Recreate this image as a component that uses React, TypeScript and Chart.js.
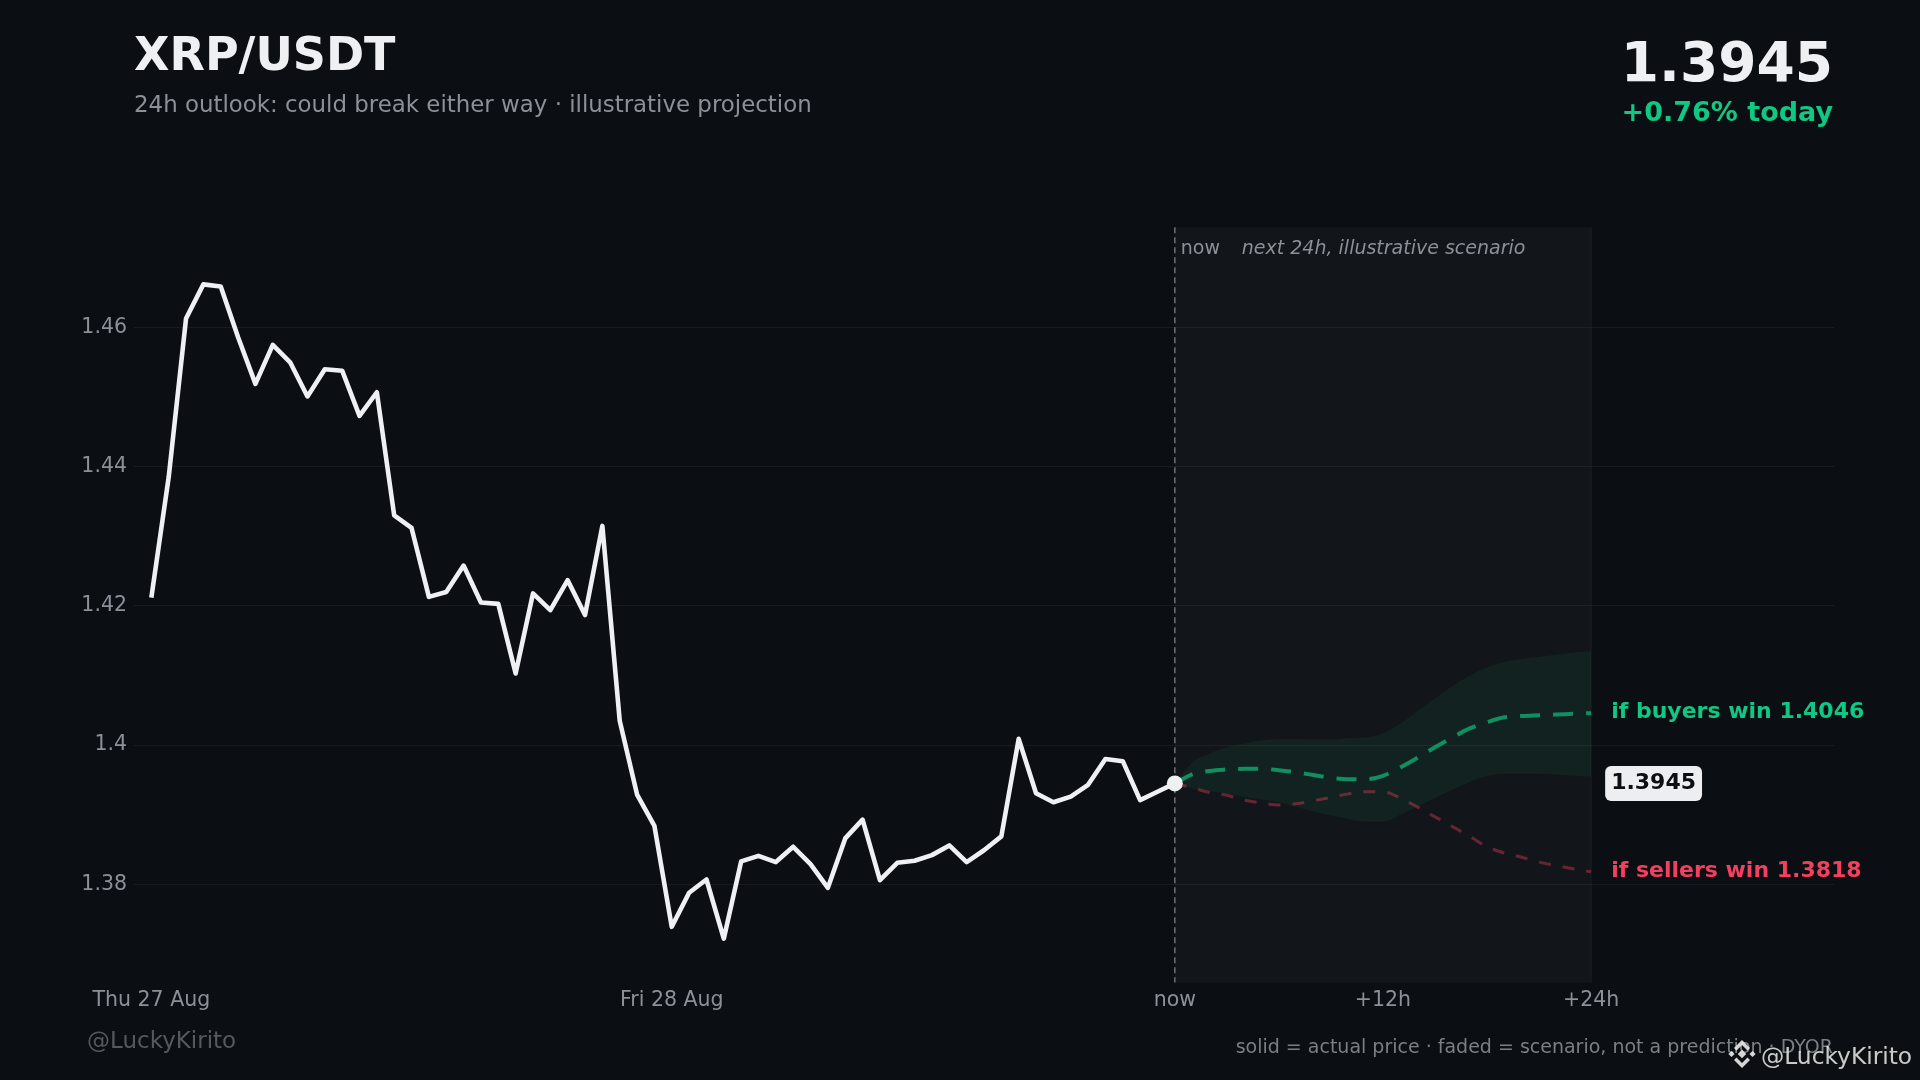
import React, { useEffect, useRef } from "react";
import { Chart, registerables } from "chart.js";

Chart.register(...registerables);

const priceValues = [
  1.4212, 1.4385, 1.4613, 1.4662, 1.4659, 1.4586, 1.4519, 1.4575, 1.455, 1.4501,
  1.454, 1.4538, 1.4473, 1.4507, 1.433, 1.4312, 1.4213, 1.422, 1.4258, 1.4205,
  1.4203, 1.4103, 1.4218, 1.4194, 1.4237, 1.4187, 1.4315, 1.4035, 1.3929, 1.3884,
  1.3739, 1.3788, 1.3807, 1.3722, 1.3833, 1.3841, 1.3832, 1.3854, 1.3829, 1.3795,
  1.3866, 1.3893, 1.3806, 1.3831, 1.3834, 1.3842, 1.3856, 1.3832, 1.3849, 1.3869,
  1.4009, 1.3931, 1.3918, 1.3926, 1.3943, 1.398, 1.3977, 1.3921, 1.3933, 1.3945,
];
const buyersValues = [
  1.3945, 1.3958, 1.3963, 1.3965, 1.3966, 1.3966, 1.3964, 1.3961, 1.3957, 1.3953,
  1.3951, 1.3951, 1.3956, 1.3968, 1.3982, 1.3997, 1.4011, 1.4024, 1.4033, 1.404,
  1.4042, 1.4043, 1.4044, 1.4045, 1.4046,
];
const sellersValues = [
  1.3945, 1.3939, 1.3932, 1.3928, 1.3921, 1.3917, 1.3914, 1.3916, 1.392, 1.3925,
  1.393, 1.3933, 1.3933, 1.3924, 1.3911, 1.3897, 1.3883, 1.3869, 1.3854, 1.3845,
  1.3839, 1.3832, 1.3827, 1.3822, 1.3818,
];
const bandUpper = [
  1.3945, 1.3975, 1.3988, 1.3997, 1.4002, 1.4007, 1.4009, 1.4009, 1.4008, 1.4008,
  1.401, 1.4011, 1.4017, 1.4031, 1.4049, 1.4067, 1.4085, 1.41, 1.4112, 1.4119,
  1.4124, 1.4127, 1.413, 1.4133, 1.4135,
];
const bandLower = [
  1.3945, 1.3938, 1.3934, 1.393, 1.3926, 1.3922, 1.3918, 1.3911, 1.3905, 1.3899,
  1.3894, 1.389, 1.389, 1.39, 1.3912, 1.3924, 1.3936, 1.3947, 1.3956, 1.3959,
  1.3959, 1.3959, 1.3958, 1.3956, 1.3955,
];
const xTickValues = [-59, -29, 0, 12, 24];
const xTickLabels = ["Thu 27 Aug", "Fri 28 Aug", "now", "+12h", "+24h"];
const yTickValues = [1.38, 1.4, 1.42, 1.44, 1.46];

const GREEN = "#10c884";
const RED = "#f43f5e";
const MUTED = "#8b9099";
const BG = "#0b0f13";
const FONT = '"DejaVu Sans"';

const past = (v: number, i: number) => ({ x: i - priceValues.length + 1, y: v });
const future = (v: number, i: number) => ({ x: i, y: v });

const annotations = {
  id: "annotations",
  beforeDatasetsDraw(chart: any) {
    const { ctx, chartArea, scales } = chart;
    const x0 = scales.x.getPixelForValue(0);
    const x24 = scales.x.getPixelForValue(24);
    ctx.save();
    ctx.fillStyle = "rgba(255,255,255,0.03)";
    ctx.fillRect(x0, chartArea.top, x24 - x0, chartArea.bottom - chartArea.top);
    ctx.strokeStyle = "rgba(255,255,255,0.05)";
    ctx.lineWidth = 1;
    ctx.beginPath();
    ctx.moveTo(x24, chartArea.top);
    ctx.lineTo(x24, chartArea.bottom);
    ctx.stroke();
    ctx.strokeStyle = "#6d7178";
    ctx.lineWidth = 1.5;
    ctx.setLineDash([6, 4]);
    ctx.beginPath();
    ctx.moveTo(x0, chartArea.top);
    ctx.lineTo(x0, chartArea.bottom);
    ctx.stroke();
    ctx.restore();
  },
  afterDatasetsDraw(chart: any) {
    const { ctx, chartArea, scales } = chart;
    const x0 = scales.x.getPixelForValue(0);
    const x24 = scales.x.getPixelForValue(24);
    const now = priceValues[priceValues.length - 1];
    const buy = buyersValues[buyersValues.length - 1];
    const sell = sellersValues[sellersValues.length - 1];
    ctx.save();
    ctx.textBaseline = "middle";
    ctx.textAlign = "left";
    ctx.font = `19px ${FONT}`;
    ctx.fillStyle = MUTED;
    ctx.fillText("now", x0 + 6, chartArea.top + 22);
    ctx.font = `italic 19px ${FONT}`;
    ctx.fillText("next 24h, illustrative scenario", x0 + 67, chartArea.top + 22);

    const labelX = x24 + 20;
    ctx.font = `bold 22px ${FONT}`;
    ctx.fillStyle = GREEN;
    ctx.fillText(`if buyers win ${buy.toFixed(4)}`, labelX, scales.y.getPixelForValue(buy) - 1);
    ctx.fillStyle = RED;
    ctx.fillText(`if sellers win ${sell.toFixed(4)}`, labelX, scales.y.getPixelForValue(sell) - 1);

    const text = now.toFixed(4);
    const w = ctx.measureText(text).width;
    const yNow = scales.y.getPixelForValue(now);
    ctx.fillStyle = "#eceef2";
    ctx.beginPath();
    ctx.roundRect(labelX - 6, yNow - 17.5, w + 12, 35, 6);
    ctx.fill();
    ctx.fillStyle = BG;
    ctx.fillText(text, labelX, yNow);
    ctx.restore();
  },
};

const abs = (
  top: number,
  size: number,
  color: string,
  extra: React.CSSProperties = {}
): React.CSSProperties => ({
  position: "absolute",
  top,
  fontSize: size,
  lineHeight: 1,
  color,
  whiteSpace: "nowrap",
  fontFamily: FONT,
  ...extra,
});

export default function App() {
  const ref = useRef<HTMLCanvasElement>(null);

  useEffect(() => {
    document.body.style.margin = "0";
    document.body.style.background = BG;
    const chart = new Chart(ref.current!, {
      type: "line",
      plugins: [annotations],
      data: {
        datasets: [
          {
            label: "price",
            data: priceValues.map(past),
            borderColor: "#eef0f3",
            backgroundColor: "#eef0f3",
            borderWidth: 4.6,
            borderJoinStyle: "round",
            tension: 0,
            pointRadius: (c: any) => (c.dataIndex === priceValues.length - 1 ? 8 : 0),
            pointBorderWidth: 0,
          },
          {
            label: "buyers",
            data: buyersValues.map(future),
            borderColor: "rgba(16,200,132,0.66)",
            borderWidth: 4,
            borderDash: [20, 13],
            cubicInterpolationMode: "monotone",
            pointRadius: 0,
          },
          {
            label: "sellers",
            data: sellersValues.map(future),
            borderColor: "rgba(244,63,94,0.38)",
            borderWidth: 3,
            borderDash: [12, 12],
            cubicInterpolationMode: "monotone",
            pointRadius: 0,
          },
          {
            label: "band upper",
            data: bandUpper.map(future),
            borderWidth: 0,
            borderColor: "transparent",
            backgroundColor: "rgba(16,200,132,0.07)",
            fill: "+1",
            cubicInterpolationMode: "monotone",
            pointRadius: 0,
          },
          {
            label: "band lower",
            data: bandLower.map(future),
            borderWidth: 0,
            borderColor: "transparent",
            cubicInterpolationMode: "monotone",
            pointRadius: 0,
          },
        ] as any,
      },
      options: {
        responsive: false,
        animation: false,
        devicePixelRatio: 1,
        layout: { padding: { top: 227.3, right: 86, bottom: 0, left: 0 } },
        plugins: { legend: { display: false }, tooltip: { enabled: false }, title: { display: false } },
        scales: {
          x: {
            type: "linear",
            min: -60,
            max: 38,
            grid: { display: false },
            border: { display: false },
            afterBuildTicks: (axis: any) => {
              axis.ticks = xTickValues.map((value) => ({ value }));
            },
            afterFit: (axis: any) => {
              axis.height = 97.5;
            },
            ticks: {
              autoSkip: false,
              maxRotation: 0,
              minRotation: 0,
              padding: -2,
              color: MUTED,
              font: { family: FONT, size: 20.5 },
              callback: (v: any) => xTickLabels[xTickValues.indexOf(v)],
            },
          },
          y: {
            type: "linear",
            min: 1.3659,
            max: 1.4744,
            grid: { color: "#181c20", lineWidth: 1, drawTicks: false },
            border: { display: false },
            afterBuildTicks: (axis: any) => {
              axis.ticks = yTickValues.map((value) => ({ value }));
            },
            afterFit: (axis: any) => {
              axis.width = 134;
            },
            ticks: {
              padding: 7,
              color: MUTED,
              font: { family: FONT, size: 20.5 },
              callback: (v: any) => String(v),
            },
          },
        },
      } as any,
    });
    return () => chart.destroy();
  }, []);

  return (
    <div style={{ position: "absolute", left: 0, top: 0, width: 1920, height: 1080, background: BG, overflow: "hidden" }}>
      <canvas ref={ref} width={1920} height={1080} style={{ position: "absolute", left: 0, top: 0, width: 1920, height: 1080 }} />
      <div style={abs(31, 46, "#eef0f3", { left: 134, fontWeight: 700 })}>XRP/USDT</div>
      <div style={abs(93, 22.9, MUTED, { left: 134 })}>24h outlook: could break either way · illustrative projection</div>
      <div style={abs(35, 55, "#eef0f3", { right: 87, fontWeight: 700 })}>1.3945</div>
      <div style={abs(98, 27, GREEN, { right: 87, fontWeight: 700 })}>+0.76% today</div>
      <div style={abs(1029, 23, "#55595f", { left: 87 })}>@LuckyKirito</div>
      <div style={abs(1037, 19, "#7b7f86", { right: 87 })}>solid = actual price · faded = scenario, not a prediction · DYOR</div>
      <div style={abs(1044, 23.3, "rgba(235,235,235,0.85)", { left: 1761 })}>@LuckyKirito</div>
      <svg width="28" height="28" viewBox="-14 -14 28 28" style={{ position: "absolute", left: 1728, top: 1040 }}>
        <g fill="rgba(235,235,235,0.9)">
          <rect x="-3" y="-3" width="6" height="6" transform="rotate(45)" />
          <path d="M0 -14 L8 -6 L5.5 -3.5 L0 -9 L-5.5 -3.5 L-8 -6 Z" />
          <path d="M0 14 L8 6 L5.5 3.5 L0 9 L-5.5 3.5 L-8 6 Z" />
          <rect x="-2.2" y="-2.2" width="4.4" height="4.4" transform="translate(-10.5 0) rotate(45)" />
          <rect x="-2.2" y="-2.2" width="4.4" height="4.4" transform="translate(10.5 0) rotate(45)" />
        </g>
      </svg>
    </div>
  );
}
